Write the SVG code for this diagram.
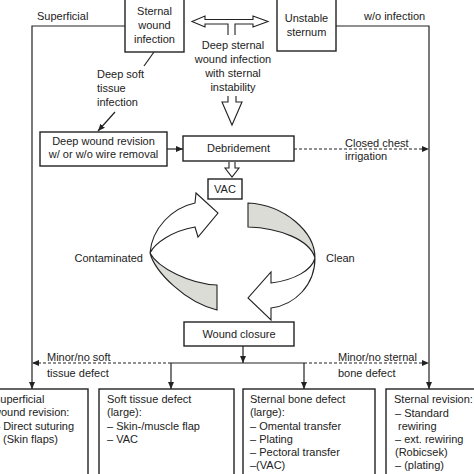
<svg xmlns="http://www.w3.org/2000/svg" width="474" height="474" viewBox="0 0 474 474">
<defs>
<style>
text{font-family:"Liberation Sans",Arial,sans-serif;font-size:11px;fill:#222}
.c{text-anchor:middle}
.e{text-anchor:end}
.box{fill:#fff;stroke:#222;stroke-width:1.4}
.ln{fill:none;stroke:#222;stroke-width:1.2}
.dash{fill:none;stroke:#222;stroke-width:1.2;stroke-dasharray:3 2}
.hol{fill:#fff;stroke:#222;stroke-width:1.1;stroke-linejoin:miter}
.rw{fill:#fff;stroke:#222;stroke-width:1.1}
.rg{fill:#dcdcd6;stroke:#222;stroke-width:1.1}
</style>
<marker id="ah" markerWidth="7" markerHeight="6" refX="7" refY="3" orient="auto" markerUnits="userSpaceOnUse">
<path d="M0,0 L7,3 L0,6 z" fill="#222"/>
</marker>
</defs>
<rect width="474" height="474" fill="#fff"/>

<g id="connectors">
<path class="ln" d="M125,26 H32 V389" marker-end="url(#ah)"/>
<path class="ln" d="M336,26 H429 V389" marker-end="url(#ah)"/>
<path class="ln" d="M154,52 L144,66"/>
<path class="ln" d="M115,112 L98,131" marker-end="url(#ah)"/>
<path class="ln" d="M167,149 H183" marker-end="url(#ah)"/>
<path class="dash" d="M294,149 H429" marker-end="url(#ah)"/>
<path class="ln" d="M243,346 V363" marker-end="url(#ah)"/>
<path class="ln" d="M171,363 H304"/>
<path class="ln" d="M171,363 V389" marker-end="url(#ah)"/>
<path class="ln" d="M304,363 V389" marker-end="url(#ah)"/>
<path class="dash" d="M171,363 H32" marker-end="url(#ah)"/>
<path class="dash" d="M304,363 H429" marker-end="url(#ah)"/>
<path class="hol" d="M228,35 L228,24 L205,24 L205,27 L192,21.5 L205,16 L205,19.5 L253,19.5 L253,16 L268,21.5 L253,27 L253,24 L235,24 L235,35"/>
<path class="hol" d="M228,96 L228,102 L222,102 L232,125 L242,102 L236,102 L236,96"/>
<path class="hol" d="M229,162 L229,168 L225,168 L232,177 L239,168 L235,168 L235,162"/>
</g>

<g id="labels">
<text x="37" y="20">Superficial</text>
<text x="364" y="20">w/o infection</text>
<text class="c" x="233" y="49">Deep sternal</text>
<text class="c" x="233" y="63">wound infection</text>
<text class="c" x="233" y="77">with sternal</text>
<text class="c" x="233" y="91">instability</text>
<text x="97" y="78">Deep soft</text>
<text x="97" y="92">tissue</text>
<text x="97" y="106">infection</text>
<text x="345" y="147">Closed chest</text>
<text x="345" y="160">irrigation</text>
<text class="e" x="143" y="262">Contaminated</text>
<text x="326" y="262">Clean</text>
<text x="47" y="361">Minor/no soft</text>
<text x="47" y="377">tissue defect</text>
<text x="338" y="361">Minor/no sternal</text>
<text x="338" y="377">bone defect</text>
</g>

<g id="cycle">
<path class="rw" d="M195,227 L198,237 L218,213 L196,193 L195,203 C172,208 152,228 150,253 C155,243 172,231 195,227 Z"/>
<path class="rg" d="M150,253 C158,268 190,284 217,285 L217,310 C185,302 155,272 150,253 Z"/>
<path class="rg" d="M248,203 C285,205 315,232 315,258 C310,240 280,228 248,227 Z"/>
<path class="rw" d="M315,258 C315,285 295,305 271,308 L271,320 L248,298 L271,272 L271,283 C295,280 312,270 315,258 Z"/>
</g>

<g id="n-sternal-wound">
<rect class="box" x="125" y="-2" width="59" height="54"/>
<text class="c" x="154.5" y="15">Sternal</text>
<text class="c" x="154.5" y="29">wound</text>
<text class="c" x="154.5" y="43">infection</text>
</g>
<g id="n-unstable">
<rect class="box" x="277" y="-2" width="59" height="53"/>
<text class="c" x="306.5" y="22">Unstable</text>
<text class="c" x="306.5" y="36">sternum</text>
</g>
<g id="n-revision">
<rect class="box" x="40" y="132" width="127" height="34"/>
<text class="c" x="103.5" y="145">Deep wound revision</text>
<text class="c" x="103.5" y="158">w/ or w/o wire removal</text>
</g>
<g id="n-debridement">
<rect class="box" x="183" y="136" width="111" height="25"/>
<text class="c" x="238.5" y="152">Debridement</text>
</g>
<g id="n-vac">
<rect class="box" x="208" y="179" width="34" height="20"/>
<text class="c" x="225" y="193">VAC</text>
</g>
<g id="n-closure">
<rect class="box" x="184" y="322" width="110" height="24"/>
<text class="c" x="239" y="338">Wound closure</text>
</g>
<g id="n-superficial">
<rect class="box" x="-5" y="389" width="93" height="100"/>
<text x="-7" y="403">Superficial</text>
<text x="-7" y="416">wound revision:</text>
<text x="-6" y="430">– Direct suturing</text>
<text x="3" y="443">(Skin flaps)</text>
</g>
<g id="n-soft">
<rect class="box" x="99" y="389" width="135" height="100"/>
<text x="107" y="403">Soft tissue defect</text>
<text x="107" y="416">(large):</text>
<text x="107" y="430">– Skin-/muscle flap</text>
<text x="107" y="443">– VAC</text>
</g>
<g id="n-bone">
<rect class="box" x="243" y="389" width="132" height="100"/>
<text x="250" y="403">Sternal bone defect</text>
<text x="250" y="416">(large):</text>
<text x="250" y="430">– Omental transfer</text>
<text x="250" y="443">– Plating</text>
<text x="250" y="456">– Pectoral transfer</text>
<text x="250" y="469">–(VAC)</text>
</g>
<g id="n-sternal-rev">
<rect class="box" x="386" y="389" width="100" height="100"/>
<text x="394" y="403">Sternal revision:</text>
<text x="395" y="417">– Standard</text>
<text x="398" y="430">rewiring</text>
<text x="395" y="443">– ext. rewiring</text>
<text x="395" y="456">(Robicsek)</text>
<text x="395" y="469">– (plating)</text>
</g>
</svg>
